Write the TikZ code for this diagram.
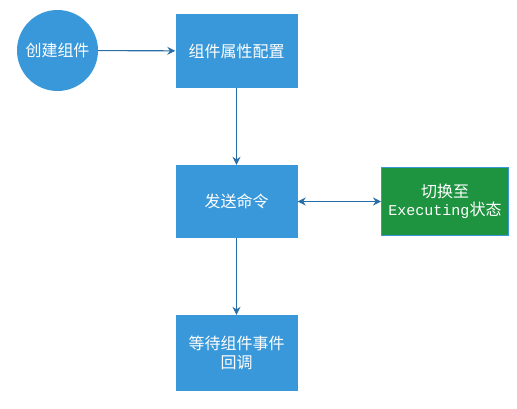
\documentclass[tikz,border=0pt]{standalone}
\usepackage{fontspec}
\newfontfamily\cjk{Noto Sans CJK SC}
\newfontfamily\monofnt{Liberation Mono}
\usetikzlibrary{arrows.meta}
\definecolor{boxblue}{RGB}{57,152,217}
\definecolor{boxgreen}{RGB}{30,148,64}
\definecolor{linkblue}{RGB}{42,110,168}
\tikzset{
  bluebox/.style={rectangle, fill=boxblue, draw=none, minimum width=122pt, minimum height=74pt, inner sep=0pt, text=white, align=center, font=\cjk\fontsize{16}{18.5}\selectfont},
  greenbox/.style={rectangle, fill=boxgreen, draw=boxblue, line width=1pt, minimum width=127pt, minimum height=68pt, inner sep=0pt, text=white, align=center, font=\cjk\fontsize{16}{18.5}\selectfont},
  startcircle/.style={circle, fill=boxblue, draw=none, minimum size=81pt, inner sep=0pt, text=white, font=\cjk\fontsize{16}{18.5}\selectfont},
  link/.style={draw=linkblue, line width=1.1pt, -{Stealth[length=8pt,width=8pt]}},
  dlink/.style={draw=linkblue, line width=1.1pt, {Stealth[length=8pt,width=8pt]}-{Stealth[length=8pt,width=8pt]}}
}
\begin{document}
\begin{tikzpicture}[x=1pt,y=-1pt]
\path[use as bounding box, fill=white] (0,0) rectangle (517,408);
\node[startcircle] (start) at (57.5,50.5) {创建组件};
\node[bluebox] (cfg) at (236.5,51) {组件属性配置};
\node[bluebox, minimum height=73pt] (send) at (236.5,201.5) {发送命令};
\node[greenbox] (exec) at (445,201.5) {切换至\\{\monofnt\fontsize{15}{18.5}\selectfont Executing}状态};
\node[bluebox, minimum height=76pt] (wait) at (236.5,353) {等待组件事件\\回调};
\draw[link] (start) -- (cfg);
\draw[link] (cfg) -- (send);
\draw[dlink] (send) -- (exec);
\draw[link] (send) -- (wait);
\end{tikzpicture}
\end{document}
